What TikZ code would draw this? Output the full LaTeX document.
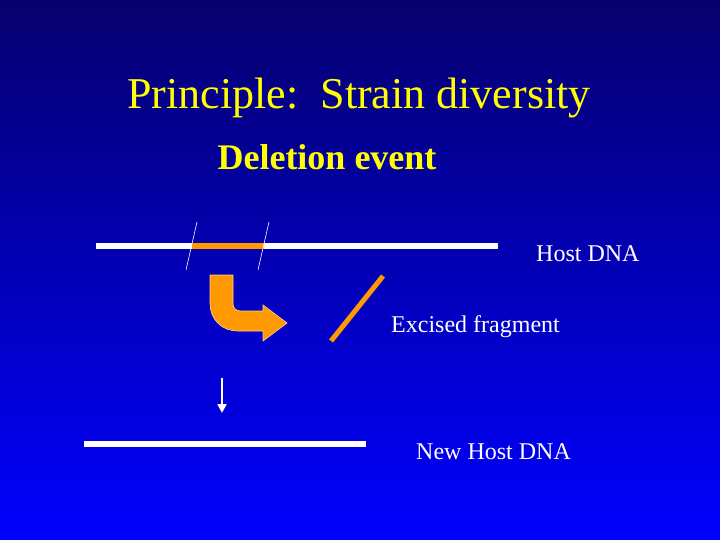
\documentclass[tikz,border=0pt]{standalone}
\usepackage{fontspec}
\setmainfont{Liberation Serif}
\usetikzlibrary{arrows.meta}
\definecolor{navytop}{RGB}{6,0,110}
\definecolor{slideblue}{RGB}{0,0,255}
\definecolor{fragorange}{RGB}{255,153,0}
\definecolor{titleyellow}{RGB}{255,255,0}
\begin{document}
\begin{tikzpicture}[x=1pt,y=-1pt,
  dna/.style={white,line width=6pt},
  cut/.style={white,line width=0.6pt},
  label/.style={white,inner sep=0pt,anchor=base west,font=\fontsize{24}{28}\selectfont}]
\useasboundingbox (0,0) rectangle (720,540);
\shade[top color=navytop,bottom color=slideblue] (0,0) rectangle (720,540);
\node[titleyellow,inner sep=0pt,anchor=base,font=\fontsize{44}{50}\selectfont] (title) at (359,109) {Principle:\ \ Strain diversity};
\node[titleyellow,inner sep=0pt,anchor=base,font=\fontsize{36}{42}\selectfont\bfseries] (event) at (327,170) {Deletion event};
\coordinate (hostL) at (96,246);
\coordinate (hostR) at (498,246);
\coordinate (fragL) at (192,246);
\coordinate (fragR) at (264,246);
\draw[dna] (hostL) -- (hostR);
\draw[fragorange,line width=6pt] (fragL) -- (fragR);
\draw[cut] (197,222) -- (186,270);
\draw[cut] (269,222) -- (258,270);
\node[label] (host) at (536,261) {Host DNA};
\filldraw[fill=fragorange,draw=fragorange!45!white,line width=0.6pt]
  (210,275) -- (210,303) .. controls (210,320) and (222,331) .. (238,331)
  -- (263,331) -- (263,341) -- (287,323) -- (263,305) -- (263,311) -- (241,311)
  .. controls (236,311) and (233,308) .. (233,304) -- (233,275) -- cycle;
\coordinate (exA) at (383,276);
\coordinate (exB) at (331,341);
\draw[fragorange,line width=5pt] (exA) -- (exB);
\node[label] (excised) at (391,332) {Excised fragment};
\coordinate (stepA) at (222,378);
\coordinate (stepB) at (222,413);
\draw[white,line width=2.5pt,-{Triangle[width=9pt,length=9pt]}] (stepA) -- (stepB);
\coordinate (newL) at (84,444);
\coordinate (newR) at (366,444);
\draw[dna] (newL) -- (newR);
\node[label] (newhost) at (416,459) {New Host DNA};
\end{tikzpicture}
\end{document}
